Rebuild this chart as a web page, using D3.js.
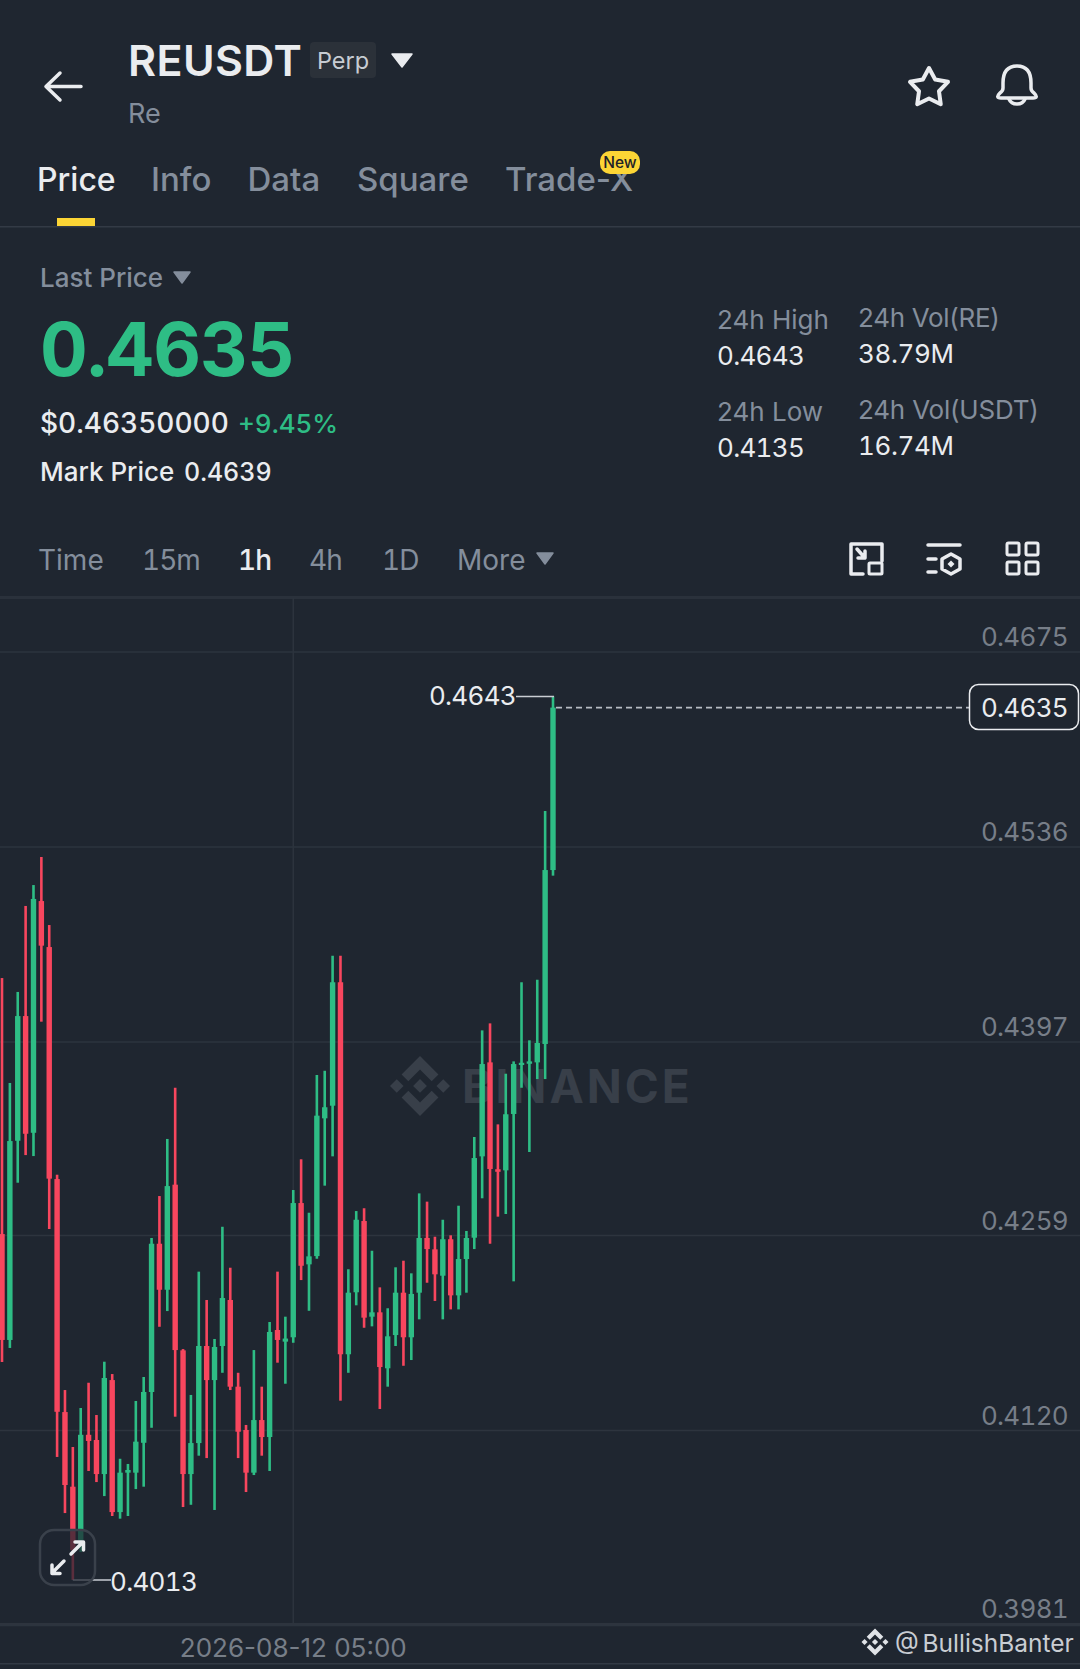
<!DOCTYPE html>
<html>
<head>
<meta charset="utf-8">
<script src="https://cdn.jsdelivr.net/npm/d3@7"></script>
<style>
  html, body { margin: 0; padding: 0; background: #1f2630; }
  svg { display: block; }
  text { font-family: Inter, "Noto Sans", sans-serif; }
  .num { font-feature-settings: "tnum"; }
</style>
</head>
<body>
<script>
// hourly candles (oldest first)
const opens = [.42597,.41842,.43262,.44151,.43319,.44971,.44643,.42989,.41328,.40796,
  .40416,.41166,.41129,.40886,.41556,.40615,.40896,.40896,.41109,.41471,
  .42528,.42200,.42949,.41768,.40886,.41107,.41799,.41556,.41799,.42127,
  .41509,.41200,.40896,.41271,.41150,.41913,.41830,.41861,.42818,.42381,
  .42440,.43422,.43512,.44392,.41740,.42182,.42690,.42008,.42039,.41640,
  .41877,.42179,.41861,.42179,.42569,.42488,.42300,.42560,.42160,.42419,
  .42571,.43151,.43821,.43059,.43051,.43453,.43802,.43811,.43821,.43952,.45192];
const closes = [.41842,.43260,.44151,.43312,.44986,.44653,.42992,.41330,.40808,.40345,
  .41166,.41122,.40886,.41571,.40615,.40896,.40915,.41117,.41471,.42528,
  .42200,.42939,.41770,.40886,.41107,.41799,.41556,.41792,.42141,.41509,
  .41188,.40896,.41271,.41150,.41899,.41842,.41852,.42818,.42371,.42438,
  .43441,.43501,.44392,.41740,.42179,.42699,.42001,.42039,.41649,.41868,
  .42179,.41861,.42170,.42569,.42490,.42310,.42560,.42160,.42419,.42569,
  .43139,.43809,.43061,.43041,.43451,.43809,.43818,.43828,.43959,.45192,.46350];
const highs = [.44422,.43674,.44323,.44936,.45085,.45285,.44800,.43020,.41485,.41079,
  .41357,.41537,.41307,.41687,.41599,.40995,.40958,.41407,.41578,.42569,
  .42868,.43275,.43640,.41777,.41450,.42329,.42127,.41849,.42649,.42357,
  .41608,.41236,.41770,.41509,.41970,.42329,.42008,.42911,.43130,.42749,
  .43731,.43761,.44581,.44581,.42346,.42761,.42781,.42478,.42217,.42068,
  .42360,.42407,.42317,.42887,.42828,.42578,.42699,.42588,.42799,.42619,
  .43289,.44049,.44099,.43379,.43740,.43828,.44392,.43978,.44410,.45613,.46430];
const lows = [.41685,.41785,.42963,.43160,.43153,.44111,.42633,.41008,.40608,.40131,
  .40330,.40908,.40829,.40729,.40587,.40568,.40587,.40779,.40796,.41216,
  .41936,.42048,.41295,.40651,.40667,.41017,.41000,.40630,.41608,.41485,
  .41000,.40758,.40879,.41017,.40908,.41680,.41530,.41822,.42269,.42050,
  .42421,.42942,.43151,.41409,.41608,.42089,.41929,.41939,.41350,.41509,
  .41799,.41658,.41699,.41989,.42250,.42120,.41989,.42060,.42060,.42179,
  .42490,.42852,.42528,.42721,.42740,.42260,.43640,.43182,.43702,.43702,.45152];

const priceTicks = [0.4675, 0.4536, 0.4397, 0.4259, 0.4120, 0.3981];
const lastPrice = 0.4635, dayHigh = 0.4643, chartLow = 0.4013;
const timeIndex = 37, timeLabel = "2026-08-12 05:00";

const tabs = ["Price", "Info", "Data", "Square", "Trade-X"];
const intervals = ["Time", "15m", "1h", "4h", "1D", "More"];

const width = 1080, height = 1669;
const white = "#eaecef", gray = "#848e9c", axisGray = "#777e88", gridColor = "#2d343e";
const green = "#2ebd85", red = "#f8465e", yellow = "#fcd535", bg = "#1f2630";

const svg = d3.select("body").append("svg")
    .attr("width", width)
    .attr("height", height);

svg.append("rect").attr("width", width).attr("height", height).attr("fill", bg);

function label(x, y, txt, size, color, weight, anchor) {
    return svg.append("text")
        .attr("x", x)
        .attr("y", y)
        .attr("font-size", size)
        .attr("font-weight", weight || 400)
        .attr("fill", color)
        .attr("text-anchor", anchor || "start")
        .text(txt);
}

// tabular figures, squeezed a little like the app's number font
function numLabel(x, y, txt, size, color, weight, anchor) {
    return label(x, y, txt, size, color, weight, anchor)
        .attr("class", "num")
        .attr("letter-spacing", -0.7);
}

function icon(d, stroke, strokeWidth) {
    return svg.append("path")
        .attr("d", d)
        .attr("fill", "none")
        .attr("stroke", stroke || white)
        .attr("stroke-width", strokeWidth || 3.5)
        .attr("stroke-linecap", "round")
        .attr("stroke-linejoin", "round");
}

function triangle(x0, x1, y0, y1, color) {
    svg.append("path")
        .attr("d", "M" + x0 + " " + y0 + "L" + x1 + " " + y0 + "L" + (x0 + x1) / 2 + " " + y1 + "Z")
        .attr("fill", color)
        .attr("stroke", color)
        .attr("stroke-width", 1.5)
        .attr("stroke-linejoin", "round");
}

// binance mark, drawn in its own 126.6 unit box
const logoParts = [
    "M38.73 53.2l24.59-24.58 24.6 24.6 14.3-14.31L63.32 0 24.43 38.9z",
    "M0 63.31l14.3-14.31 14.31 14.31-14.31 14.3z",
    "M38.73 73.41l24.59 24.58 24.6-24.6 14.31 14.29-38.91 38.92-38.9-38.88z",
    "M98.04 63.32l14.3-14.31 14.31 14.3-14.31 14.31z",
    "M77.83 63.3L63.32 48.78 48.81 63.28l14.51 14.5z"
];
function logo(cx, cy, w, color) {
    const k = w / 126.6;
    svg.append("g")
        .attr("transform", "translate(" + (cx - w / 2) + "," + (cy - w / 2) + ") scale(" + k + ")")
        .selectAll("path").data(logoParts).enter().append("path")
        .attr("d", d => d)
        .attr("fill", color);
}

// ---- header ----
icon("M81 86.5H46M60 73L46 86.5L60 100");
label(128, 76, "REUSDT", 43, white, 600).attr("letter-spacing", 0.4);
svg.append("rect").attr("x", 310).attr("y", 42).attr("width", 66).attr("height", 36).attr("rx", 4).attr("fill", "#2b3139");
label(343, 69, "Perp", 23.5, "#c7ccd3", 400, "middle");
triangle(392, 412, 54, 67, white);
label(128, 123, "Re", 27, gray);

const star = d3.lineRadial().curve(d3.curveLinearClosed);
const starPoints = d3.range(10).map(i => [i * Math.PI / 5, i % 2 ? 10.5 : 20]);
icon(star(starPoints)).attr("transform", "translate(929,88)").attr("stroke-width", 4);
icon("M1017 66C1006 66 1003 74 1003 83L1003 88Q1003 91 1000 93Q995 98 1001 98L1033 98Q1039 98 1034 93Q1031 91 1031 88L1031 83C1031 74 1028 66 1017 66Z", white, 3.5);
icon("M1009 99A8.5 7.5 0 0 0 1025 99", white, 3.5);

// ---- tabs ----
const tabX = [37, 151, 247.5, 357, 505];
tabs.forEach((t, i) => label(tabX[i], 191, t, i === 0 ? 32 : 33, i === 0 ? white : gray, 500));
svg.append("rect").attr("x", 600).attr("y", 151).attr("width", 40).attr("height", 23).attr("rx", 10).attr("fill", yellow);
label(620, 168, "New", 15.5, "#1e2329", 500, "middle");
svg.append("rect").attr("x", 57).attr("y", 218).attr("width", 38).attr("height", 8).attr("fill", yellow);
svg.append("rect").attr("x", 0).attr("y", 226).attr("width", width).attr("height", 1.5).attr("fill", "#333a45");

// ---- price block ----
label(40, 287, "Last Price", 26, gray, 500);
triangle(174, 190, 272, 283, gray);
label(40, 376, "0.4635", 74, green, 700).attr("class", "num").attr("letter-spacing", -0.8);
label(40, 433, "$0.46350000", 28, white, 500).attr("class", "num");
label(238, 433, "+9.45%", 26, green, 500).attr("class", "num");
label(40, 481, "Mark Price", 26, white, 500);
label(184, 481, "0.4639", 25, white, 500).attr("class", "num");

label(717, 329, "24h High", 26, gray);
numLabel(717, 365, "0.4643", 26, white);
label(717, 421, "24h Low", 26, gray);
numLabel(717, 457, "0.4135", 26, white);
label(858, 327, "24h Vol(RE)", 26, gray).attr("letter-spacing", -0.3);
numLabel(858, 363, "38.79M", 26, white).attr("letter-spacing", -0.4);
label(858, 419, "24h Vol(USDT)", 26, gray).attr("letter-spacing", -0.2);
numLabel(858, 455, "16.74M", 26, white).attr("letter-spacing", -0.4);

// ---- interval row ----
const intervalX = [38, 142, 238, 309, 382, 457];
intervals.forEach((t, i) => {
    const l = label(intervalX[i], 570, t, 28, t === "1h" ? white : gray, t === "1h" ? 500 : 400);
    if (/\d/.test(t)) l.attr("class", "num").attr("letter-spacing", -1);
});
triangle(537, 553, 553, 564, gray);

icon("M882 561V544H851V574H863M857 549L865 558M865 551V558H858");
svg.append("rect").attr("x", 869).attr("y", 563).attr("width", 13).attr("height", 11).attr("rx", 1).attr("fill", "none").attr("stroke", white).attr("stroke-width", 3);
icon("M928 545H960M928 559H936M928 572H936M951 554L960 559V569L951 574L942 569V559Z");
svg.append("path").attr("d", "M951 560.5L954.5 564L951 567.5L947.5 564Z").attr("fill", white);
[1007, 1026].forEach(x => [543, 562].forEach(y => {
    svg.append("rect").attr("x", x).attr("y", y).attr("width", 12).attr("height", 12).attr("rx", 1.5)
        .attr("fill", "none").attr("stroke", white).attr("stroke-width", 3);
}));

// ---- chart ----
const x = d3.scaleLinear().domain([0, 70]).range([2, 553]);
const y = d3.scaleLinear().domain([0.4675, 0.3981]).range([651.5, 1625]);

svg.append("rect").attr("x", 0).attr("y", 596).attr("width", width).attr("height", 3).attr("fill", "#2a313b");

const axis = svg.append("g")
    .attr("transform", "translate(" + width + ",0)")
    .call(d3.axisLeft(y).tickValues(priceTicks).tickSize(width).tickFormat(d3.format(".4f")));
axis.select(".domain").remove();
axis.selectAll("line").attr("stroke", gridColor).attr("stroke-width", 1.5);
axis.selectAll("text")
    .attr("class", "num")
    .attr("x", -12)
    .attr("dy", d => d === 0.3981 ? -8 : -5.7)
    .attr("font-size", 26)
    .attr("font-family", "Inter")
    .attr("letter-spacing", -0.7)
    .attr("fill", axisGray);

svg.append("line")
    .attr("x1", x(timeIndex)).attr("x2", x(timeIndex))
    .attr("y1", 598).attr("y2", 1624)
    .attr("stroke", gridColor).attr("stroke-width", 1.5);

// watermark sits under the candles
logo(420, 1086, 60, "#383f49");
label(462, 1103, "BINANCE", 46, "#383f49", 700).attr("letter-spacing", 3);

const candles = svg.append("g").selectAll("g")
    .data(opens.map((o, i) => ({ i: i, o: o, c: closes[i], h: highs[i], l: lows[i] })))
    .enter().append("g")
    .attr("fill", d => d.c >= d.o ? green : red);

candles.append("rect")
    .attr("x", d => x(d.i) - 1.3)
    .attr("width", 2.6)
    .attr("y", d => y(d.h))
    .attr("height", d => y(d.l) - y(d.h));
candles.append("rect")
    .attr("x", d => x(d.i) - 2.7)
    .attr("width", 5.4)
    .attr("y", d => y(Math.max(d.o, d.c)))
    .attr("height", d => Math.max(2.2, Math.abs(y(d.o) - y(d.c))));

// high / low / last price markers
const hiIndex = highs.indexOf(d3.max(highs)), loIndex = lows.indexOf(d3.min(lows));
svg.append("line")
    .attr("x1", 516).attr("x2", x(hiIndex) + 1)
    .attr("y1", y(dayHigh)).attr("y2", y(dayHigh))
    .attr("stroke", "#c9cdd3").attr("stroke-width", 1.5);
numLabel(516, 705, d3.format(".4f")(dayHigh), 26, white, 400, "end");

svg.append("line")
    .attr("x1", x(loIndex)).attr("x2", 111)
    .attr("y1", y(chartLow)).attr("y2", y(chartLow))
    .attr("stroke", "#c9cdd3").attr("stroke-width", 1.5);
numLabel(110, 1591, d3.format(".4f")(chartLow), 26, white);

svg.append("line")
    .attr("x1", x(70) + 3).attr("x2", 969)
    .attr("y1", y(lastPrice)).attr("y2", y(lastPrice))
    .attr("stroke", "#b7bcc4").attr("stroke-width", 1.8)
    .attr("stroke-dasharray", "6 4");
svg.append("rect")
    .attr("x", 969.5).attr("y", 684.5).attr("width", 109).attr("height", 45).attr("rx", 9)
    .attr("fill", bg).attr("stroke", white).attr("stroke-width", 1.5);
numLabel(1068, 717, d3.format(".4f")(lastPrice), 26, white, 400, "end");

// expand button
svg.append("rect")
    .attr("x", 40).attr("y", 1530).attr("width", 55).attr("height", 55).attr("rx", 14)
    .attr("fill", bg).attr("fill-opacity", 0.72)
    .attr("stroke", "#3a414b").attr("stroke-width", 2.5);
icon("M71 1554L83 1542M75 1542H83.5V1550M64 1561L52 1573M52 1565V1573.5H60");

// ---- bottom ----
label(x(timeIndex), 1657, timeLabel, 26, axisGray, 400, "middle");
svg.append("rect").attr("x", 0).attr("y", 1663).attr("width", width).attr("height", 1.5).attr("fill", "#333a45");
svg.append("rect").attr("x", 0).attr("y", 1623).attr("width", width).attr("height", 2.5).attr("fill", "#2d343e");
logo(875, 1642, 27, "#e0e3e7");
label(895, 1652, "@ BullishBanter", 24.5, "#c9cdd3").attr("font-family", "Noto Sans").attr("word-spacing", -3);
</script>
</body>
</html>
